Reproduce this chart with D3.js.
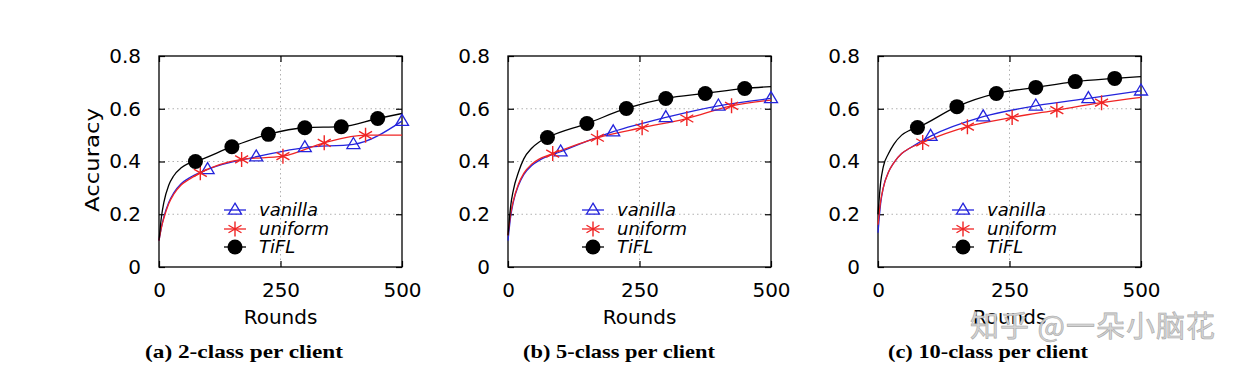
<!DOCTYPE html>
<html>
<head>
<meta charset="utf-8">
<script src="https://cdn.jsdelivr.net/npm/d3@7"></script>
<style>
  body { margin: 0; background: #fff; }
  .tick text { font-family: "DejaVu Sans", sans-serif; font-size: 20px; fill: #000; }
</style>
</head>
<body>
<svg id="chart" width="1246" height="378"></svg>
<script>
// ---- data (rounds -> accuracy) ----
const yTicks = [0, 0.2, 0.4, 0.6, 0.8];
const xTicks = [0, 250, 500];
const seriesNames = ["vanilla", "uniform", "TiFL"];
const captions = ["(a) 2-class per client", "(b) 5-class per client", "(c) 10-class per client"];

// rounds where the markers sit
const vanillaMarkRounds = [100, 200, 300, 400, 500];
const uniformMarkRounds = [85, 170, 255, 340, 425];
const tiflMarkRounds = [75, 150, 225, 300, 375, 450];

// early (steep) part of each curve, then the curve goes through the markers
const earlyRounds = [0, 5, 10, 20, 30, 45, 60];

// panel (a) 2-class
const a_vanillaEarly = [0.10, 0.15, 0.19, 0.245, 0.28, 0.315, 0.335];
const a_vanillaMarks = [0.370, 0.418, 0.453, 0.465, 0.553];
const a_uniformEarly = [0.10, 0.15, 0.185, 0.24, 0.275, 0.31, 0.33];
const a_uniformMarks = [0.357, 0.408, 0.420, 0.471, 0.500];
const a_uniformEnd = 0.500;
const a_tiflEarly = [0.10, 0.19, 0.245, 0.31, 0.345, 0.375, 0.392];
const a_tiflMarks = [0.400, 0.456, 0.503, 0.528, 0.532, 0.563];
const a_tiflEnd = 0.582;

// panel (b) 5-class
const b_vanillaEarly = [0.10, 0.19, 0.245, 0.31, 0.35, 0.385, 0.405];
const b_vanillaMarks = [0.437, 0.513, 0.567, 0.611, 0.639];
const b_uniformEarly = [0.12, 0.20, 0.25, 0.315, 0.355, 0.39, 0.41];
const b_uniformMarks = [0.430, 0.490, 0.528, 0.563, 0.611];
const b_uniformEnd = 0.633;
const b_tiflEarly = [0.12, 0.23, 0.29, 0.36, 0.41, 0.45, 0.475];
const b_tiflMarks = [0.491, 0.544, 0.601, 0.639, 0.658, 0.677];
const b_tiflEnd = 0.684;

// panel (c) 10-class
const c_vanillaEarly = [0.13, 0.24, 0.30, 0.36, 0.395, 0.43, 0.45];
const c_vanillaMarks = [0.496, 0.570, 0.611, 0.639, 0.668];
const c_uniformEarly = [0.16, 0.25, 0.30, 0.36, 0.395, 0.43, 0.45];
const c_uniformMarks = [0.472, 0.532, 0.567, 0.595, 0.623];
const c_uniformEnd = 0.643;
const c_tiflEarly = [0.20, 0.32, 0.38, 0.43, 0.465, 0.50, 0.518];
const c_tiflMarks = [0.529, 0.608, 0.658, 0.681, 0.703, 0.715];
const c_tiflEnd = 0.722;

function zipPts(rounds, vals) { return rounds.map((r, i) => ({r: r, v: vals[i]})); }

function buildSeries(vEarly, vMarks, uEarly, uMarks, uEnd, tEarly, tMarks, tEnd) {
  return [
    { name: "vanilla", marks: zipPts(vanillaMarkRounds, vMarks),
      line: zipPts(earlyRounds, vEarly).concat(zipPts(vanillaMarkRounds, vMarks)) },
    { name: "uniform", marks: zipPts(uniformMarkRounds, uMarks),
      line: zipPts(earlyRounds, uEarly).concat(zipPts(uniformMarkRounds, uMarks), [{r: 500, v: uEnd}]) },
    { name: "TiFL", marks: zipPts(tiflMarkRounds, tMarks),
      line: zipPts(earlyRounds, tEarly).concat(zipPts(tiflMarkRounds, tMarks), [{r: 500, v: tEnd}]) }
  ];
}

const panelsData = [
  buildSeries(a_vanillaEarly, a_vanillaMarks, a_uniformEarly, a_uniformMarks, a_uniformEnd, a_tiflEarly, a_tiflMarks, a_tiflEnd),
  buildSeries(b_vanillaEarly, b_vanillaMarks, b_uniformEarly, b_uniformMarks, b_uniformEnd, b_tiflEarly, b_tiflMarks, b_tiflEnd),
  buildSeries(c_vanillaEarly, c_vanillaMarks, c_uniformEarly, c_uniformMarks, c_uniformEnd, c_tiflEarly, c_tiflMarks, c_tiflEnd)
];

// ---- layout ----
const plotBoxes = [
  {left: 159, right: 402},
  {left: 508, right: 771},
  {left: 878, right: 1141}
];
const plotTop = 56, plotBottom = 267;
const colors = {vanilla: "#2424dc", uniform: "#f02424", TiFL: "#000"};

const svg = d3.select("#chart");

function drawMarker(g, name, x, y) {
  if (name === "vanilla") {
    const s = 13, h = 11;
    g.append("path")
      .attr("d", `M${x},${y - h * 0.62} L${x + s / 2},${y + h * 0.38} L${x - s / 2},${y + h * 0.38} Z`)
      .attr("fill", "none").attr("stroke", colors.vanilla).attr("stroke-width", 1.3);
  } else if (name === "uniform") {
    const r = 7.5;
    let d = "";
    [90, 30, 150].forEach(a => {
      const rad = a * Math.PI / 180;
      d += `M${x - r * Math.cos(rad)},${y - r * Math.sin(rad)} L${x + r * Math.cos(rad)},${y + r * Math.sin(rad)} `;
    });
    g.append("path").attr("d", d).attr("stroke", colors.uniform).attr("stroke-width", 1.4);
  } else {
    g.append("circle").attr("cx", x).attr("cy", y).attr("r", 7.5).attr("fill", "#000");
  }
}

function Panel(idx) {
  const box = plotBoxes[idx];
  const series = panelsData[idx];

  const xScale = d3.scaleLinear().domain([0, 500]).range([box.left, box.right]);
  const yScale = d3.scaleLinear().domain([0, 0.8]).range([plotBottom, plotTop]);

  const gr = svg.append("g");

  // dotted grid
  gr.selectAll(".hgrid").data([0.2, 0.4, 0.6]).join("line")
    .attr("x1", box.left).attr("x2", box.right)
    .attr("y1", d => yScale(d)).attr("y2", d => yScale(d))
    .attr("stroke", "#b0b0b0").attr("stroke-width", 1).attr("stroke-dasharray", "1.5,3");
  gr.append("line")
    .attr("x1", xScale(250)).attr("x2", xScale(250))
    .attr("y1", plotTop).attr("y2", plotBottom)
    .attr("stroke", "#b0b0b0").attr("stroke-width", 1).attr("stroke-dasharray", "1.5,3");

  // axes (ticks point inward, mirrored on the other side)
  const yAxis = d3.axisLeft(yScale).tickValues(yTicks).tickSizeInner(-6).tickSizeOuter(0).tickPadding(18)
    .tickFormat(d => d === 0 ? "0" : d.toFixed(1));
  const yAxGr = gr.append("g").attr("transform", `translate(${box.left},0)`).call(yAxis);
  yAxGr.select(".domain").remove();

  const yAxisR = d3.axisRight(yScale).tickValues(yTicks).tickSizeInner(-6).tickSizeOuter(0).tickFormat("");
  gr.append("g").attr("transform", `translate(${box.right},0)`).call(yAxisR).select(".domain").remove();

  const xAxis = d3.axisBottom(xScale).tickValues(xTicks).tickSizeInner(-6).tickSizeOuter(0).tickPadding(16);
  const xAxGr = gr.append("g").attr("transform", `translate(0,${plotBottom})`).call(xAxis);
  xAxGr.select(".domain").remove();
  xAxGr.selectAll(".tick text").attr("dy", "0.71em");

  const xAxisT = d3.axisTop(xScale).tickValues(xTicks).tickSizeInner(-6).tickSizeOuter(0).tickFormat("");
  gr.append("g").attr("transform", `translate(0,${plotTop})`).call(xAxisT).select(".domain").remove();

  gr.selectAll(".tick line").attr("stroke", "#000").attr("stroke-width", 1.2);

  // frame
  gr.append("rect")
    .attr("x", box.left).attr("y", plotTop)
    .attr("width", box.right - box.left).attr("height", plotBottom - plotTop)
    .attr("fill", "none").attr("stroke", "#000").attr("stroke-width", 1.3);

  // curves
  const line = d3.line()
    .x(d => xScale(d.r))
    .y(d => yScale(d.v))
    .curve(d3.curveMonotoneX);

  series.forEach(s => {
    gr.append("path")
      .datum(s.line)
      .attr("d", line)
      .attr("fill", "none")
      .attr("stroke", colors[s.name])
      .attr("stroke-width", 1.3);
  });
  series.forEach(s => {
    s.marks.forEach(m => drawMarker(gr, s.name, xScale(m.r), yScale(m.v)));
  });

  // legend
  const legX = box.left + (idx === 0 ? 76 : 85);
  const legRows = [210, 229, 247];
  seriesNames.forEach((name, i) => {
    const y = legRows[i];
    gr.append("line")
      .attr("x1", legX - 11).attr("x2", legX + 11)
      .attr("y1", y).attr("y2", y)
      .attr("stroke", colors[name]).attr("stroke-width", 1.3);
    drawMarker(gr, name, legX, y);
    gr.append("text")
      .attr("x", legX + 24).attr("y", y + 6)
      .attr("font-family", "DejaVu Sans, sans-serif")
      .attr("font-style", "italic")
      .attr("font-size", "18px")
      .text(name);
  });

  // x label
  gr.append("text")
    .attr("x", (box.left + box.right) / 2).attr("y", 324)
    .attr("text-anchor", "middle")
    .attr("font-family", "DejaVu Sans, sans-serif")
    .attr("font-size", "20px")
    .text("Rounds");

  // caption
  gr.append("text")
    .attr("x", [145, 523, 888][idx]).attr("y", 358)
    .attr("font-family", "Liberation Serif, serif")
    .attr("font-weight", "bold")
    .attr("font-size", "19px")
    .attr("textLength", [198, 192, 200][idx])
    .attr("lengthAdjust", "spacingAndGlyphs")
    .text(captions[idx]);

  return gr;
}

[0, 1, 2].forEach(i => Panel(i));

// y label only on first panel
svg.append("text")
  .attr("transform", "translate(99,160) rotate(-90)")
  .attr("text-anchor", "middle")
  .attr("font-family", "DejaVu Sans, sans-serif")
  .attr("font-size", "20px")
  .attr("textLength", 104)
  .attr("lengthAdjust", "spacingAndGlyphs")
  .text("Accuracy");

// watermark
svg.append("text")
  .attr("x", 970).attr("y", 337)
  .attr("font-family", "Noto Sans CJK SC, sans-serif")
  .attr("font-size", "29px")
  .attr("fill", "#d4d4d4")
  .attr("stroke", "#a8a8a8")
  .attr("stroke-width", 0.6)
  .attr("textLength", 245)
  .text("知乎 @一朵小脑花");
</script>
</body>
</html>
